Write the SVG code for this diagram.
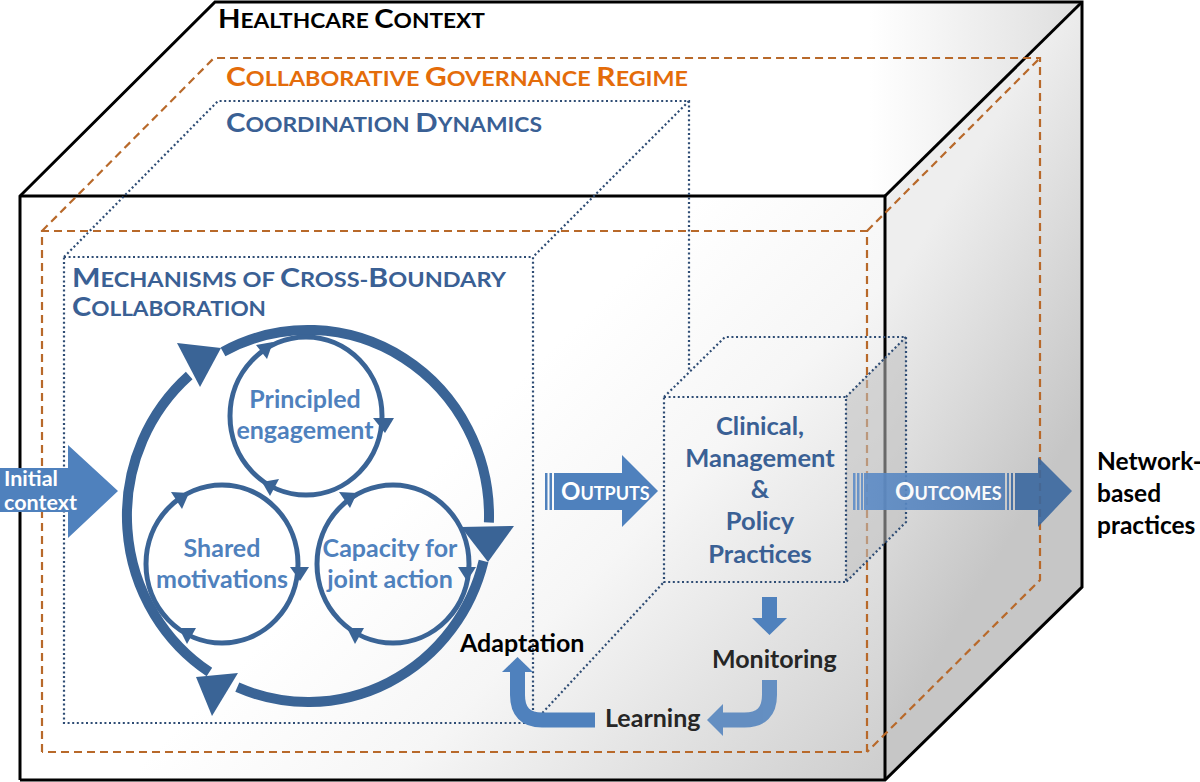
<svg xmlns="http://www.w3.org/2000/svg" width="1200" height="782" viewBox="0 0 1200 782">
<defs>
<style>
text{font-family:Lato,"Open Sans","Liberation Sans",sans-serif;font-weight:bold}
.big{font-size:27px}
.sm{font-size:21px}
.blk{stroke:#000;stroke-width:3;fill:none}
.ora{stroke:#B8692A;stroke-width:2.2;fill:none;stroke-dasharray:8 5}
.dot{stroke:#2E4C74;stroke-width:2.2;fill:none;stroke-dasharray:2 2.6}
.ring{stroke:#3A6496;fill:none}
.tri{fill:#3A6496}
.ctext{fill:#4F81BD;font-size:25px;text-anchor:middle}
.ptext{fill:#3A6094;font-size:25.5px;text-anchor:middle}
.dark{fill:#262626;font-size:25px}
.arr{fill:#4F81BD}
.wt{fill:#fff}
</style>
<linearGradient id="gFront" gradientUnits="userSpaceOnUse" x1="500" y1="400" x2="885" y2="780">
<stop offset="0" stop-color="#ffffff"/><stop offset="0.35" stop-color="#f6f6f6"/><stop offset="1" stop-color="#cdcdcd"/>
</linearGradient>
<linearGradient id="gTop" gradientUnits="userSpaceOnUse" x1="870" y1="0" x2="1082" y2="0">
<stop offset="0" stop-color="#ffffff"/><stop offset="1" stop-color="#dedede"/>
</linearGradient>
<linearGradient id="gRight" gradientUnits="userSpaceOnUse" x1="885" y1="300" x2="1082" y2="420">
<stop offset="0" stop-color="#eeeeee"/><stop offset="1" stop-color="#c6c6c6"/>
</linearGradient>
<linearGradient id="gOut" gradientUnits="userSpaceOnUse" x1="853" y1="0" x2="1072" y2="0">
<stop offset="0" stop-color="#5E8DC8"/><stop offset="0.7" stop-color="#4E7DB6"/><stop offset="0.72" stop-color="#3B68A1"/><stop offset="1" stop-color="#3A679F"/>
</linearGradient>
</defs>

<g id="healthcare-context">
<polygon points="20,196 215,2 1082,2 885,196" fill="url(#gTop)"/>
<polygon points="885,196 1082,2 1082,587 885,780" fill="url(#gRight)"/>
<rect x="20" y="196" width="865" height="584" fill="url(#gFront)"/>
<polyline class="blk" points="20,780 20,196 215,2 1082,2 1082,587 885,780 20,780"/>
<polyline class="blk" points="20,196 885,196 885,780"/>
<line class="blk" x1="885" y1="196" x2="1082" y2="2"/>
<text x="218" y="28" fill="#000" textLength="267" lengthAdjust="spacingAndGlyphs"><tspan class="big">H</tspan><tspan class="sm">EALTHCARE </tspan><tspan class="big">C</tspan><tspan class="sm">ONTEXT</tspan></text>
</g>

<g id="governance-regime">
<polyline class="ora" points="42,752 42,231 867,231 867,752 42,752"/>
<polyline class="ora" points="42,231 214,58 1040,58 1040,580 867,752"/>
<line class="ora" x1="867" y1="231" x2="1040" y2="58"/>
<text x="226" y="86" fill="#E46C0A" textLength="462" lengthAdjust="spacingAndGlyphs"><tspan class="big">C</tspan><tspan class="sm">OLLABORATIVE </tspan><tspan class="big">G</tspan><tspan class="sm">OVERNANCE </tspan><tspan class="big">R</tspan><tspan class="sm">EGIME</tspan></text>
</g>

<g id="coordination-dynamics">
<polyline class="dot" points="64,257 218,101 689,101 689,372"/>
<line class="dot" x1="689" y1="101" x2="533" y2="257"/>
<line class="dot" x1="533" y1="723" x2="664" y2="582"/>
<text x="226" y="132" fill="#3A6094" textLength="316" lengthAdjust="spacingAndGlyphs"><tspan class="big">C</tspan><tspan class="sm">OORDINATION </tspan><tspan class="big">D</tspan><tspan class="sm">YNAMICS</tspan></text>
</g>

<g id="mechanisms">
<rect class="dot" x="64" y="257" width="469" height="466"/>
<text x="72" y="287" fill="#3A6094" textLength="434" lengthAdjust="spacingAndGlyphs"><tspan class="big">M</tspan><tspan class="sm">ECHANISMS OF </tspan><tspan class="big">C</tspan><tspan class="sm">ROSS-</tspan><tspan class="big">B</tspan><tspan class="sm">OUNDARY</tspan></text>
<text x="72" y="316" fill="#3A6094" textLength="194" lengthAdjust="spacingAndGlyphs"><tspan class="big">C</tspan><tspan class="sm">OLLABORATION</tspan></text>
</g>

<g id="collaboration-cycle">
<path class="ring" stroke-width="10" d="M483.6,561 A181,186 0 0 1 237.3,687.2"/>
<path class="ring" stroke-width="10" d="M209.4,672 A181,186 0 0 1 189.2,375.6"/>
<path class="ring" stroke-width="10" d="M223,351.8 A181,186 0 0 1 488.9,522.5"/>
<polygon class="tri" points="177,343 221,348 200,387"/>
<polygon class="tri" points="461,527 514,526 488,562"/>
<polygon class="tri" points="196,677 238,673 212,716"/>
</g>

<g id="principled-engagement">
<ellipse class="ring" stroke-width="5" cx="306" cy="416" rx="76" ry="79"/>
<polygon class="tri" points="256,345 273,342 267,359"/>
<polygon class="tri" points="373,418 394,418 385,433"/>
<polygon class="tri" points="262,482 279,479 270,496"/>
<text class="ctext" x="305" y="408">Principled</text>
<text class="ctext" x="305" y="439">engagement</text>
</g>

<g id="shared-motivations">
<ellipse class="ring" stroke-width="5" cx="222" cy="564" rx="76" ry="79"/>
<polygon class="tri" points="171,492 189,493 182,509"/>
<polygon class="tri" points="290,567 309,567 300,581"/>
<polygon class="tri" points="179,628 196,628 187,644"/>
<text class="ctext" x="222" y="557">Shared</text>
<text class="ctext" x="222" y="588">motivations</text>
</g>

<g id="capacity-joint-action">
<ellipse class="ring" stroke-width="5" cx="393" cy="564" rx="76" ry="79"/>
<polygon class="tri" points="339,492 357,493 350,508"/>
<polygon class="tri" points="458,567 476,567 467,581"/>
<polygon class="tri" points="347,628 364,628 355,644"/>
<text class="ctext" x="390" y="557">Capacity for</text>
<text class="ctext" x="390" y="588">joint action</text>
</g>

<g id="practices">
<polygon points="846,397 906,337 906,522 846,582" fill="#bdbdbd" fill-opacity="0.55"/>
<rect class="dot" x="664" y="397" width="182" height="185"/>
<polyline class="dot" points="664,397 725,337 906,337 906,522 846,582"/>
<line class="dot" x1="846" y1="397" x2="906" y2="337"/>
<text class="ptext" x="760" y="435">Clinical,</text>
<text class="ptext" x="760" y="467">Management</text>
<text class="ptext" x="760" y="498">&amp;</text>
<text class="ptext" x="760" y="530">Policy</text>
<text class="ptext" x="760" y="563">Practices</text>
</g>

<g id="initial-context">
<polygon class="arr" points="0,468 68,468 68,445 118,491 68,538 68,512 0,512"/>
<text class="wt" x="4" y="486" font-size="21.5">Initial</text>
<text class="wt" x="4" y="510" font-size="21.5">context</text>
</g>

<g id="network-based-practices">
<text x="1097" y="470" font-size="24.5" fill="#000">Network-</text>
<text x="1097" y="502" font-size="24.5" fill="#000">based</text>
<text x="1097" y="534" font-size="24.5" fill="#000">practices</text>
</g>

<g id="monitoring"><text class="dark" x="712" y="668">Monitoring</text></g>
<g id="learning"><text class="dark" x="605" y="727">Learning</text></g>
<g id="adaptation"><text x="460" y="652" font-size="25" fill="#000">Adaptation</text></g>

<g id="connectors">
<g id="outputs-arrow">
<rect class="arr" x="545" y="473" width="2.5" height="37"/>
<rect class="arr" x="549.5" y="473" width="2.5" height="37"/>
<polygon class="arr" points="554,473 622,473 622,455 658,491 622,527 622,510 554,510"/>
<text class="wt" x="561" y="500"><tspan font-size="24">O</tspan><tspan font-size="18">UTPUTS</tspan></text>
</g>
<g id="outcomes-arrow" opacity="0.9">
<rect x="853" y="473" width="2.5" height="37" fill="#5E8DC8"/>
<rect x="857" y="473" width="2.5" height="37" fill="#5E8DC8"/>
<rect x="861" y="473" width="2" height="37" fill="#5E8DC8"/>
<polygon fill="url(#gOut)" points="864,473 1005,473 1005,510 864,510"/>
<rect x="1007" y="473" width="2" height="37" fill="#4A78B2"/>
<rect x="1011" y="473" width="2" height="37" fill="#3B68A1"/>
<polygon fill="#3A679F" points="1015,473 1038,473 1038,457 1072,491 1038,527 1038,510 1015,510"/>
<text class="wt" x="895" y="500"><tspan font-size="24">O</tspan><tspan font-size="18">UTCOMES</tspan></text>
</g>
<g id="practices-to-monitoring">
<polygon class="arr" points="762,597 777,597 777,618 787,618 769.5,635 752,618 762,618"/>
</g>
<g id="monitoring-to-learning" opacity="0.85">
<path d="M769.5,680 V695 Q769.5,720 744.5,720 H721" fill="none" stroke="#4F81BD" stroke-width="15"/>
<polygon class="arr" points="723,704 707,720 723,736"/>
</g>
<g id="learning-to-adaptation">
<path d="M595,720 H542 Q517.5,720 517.5,695 V671" fill="none" stroke="#4F81BD" stroke-width="15"/>
<polygon class="arr" points="502,672 533,672 517.5,657"/>
</g>
</g>
</svg>
